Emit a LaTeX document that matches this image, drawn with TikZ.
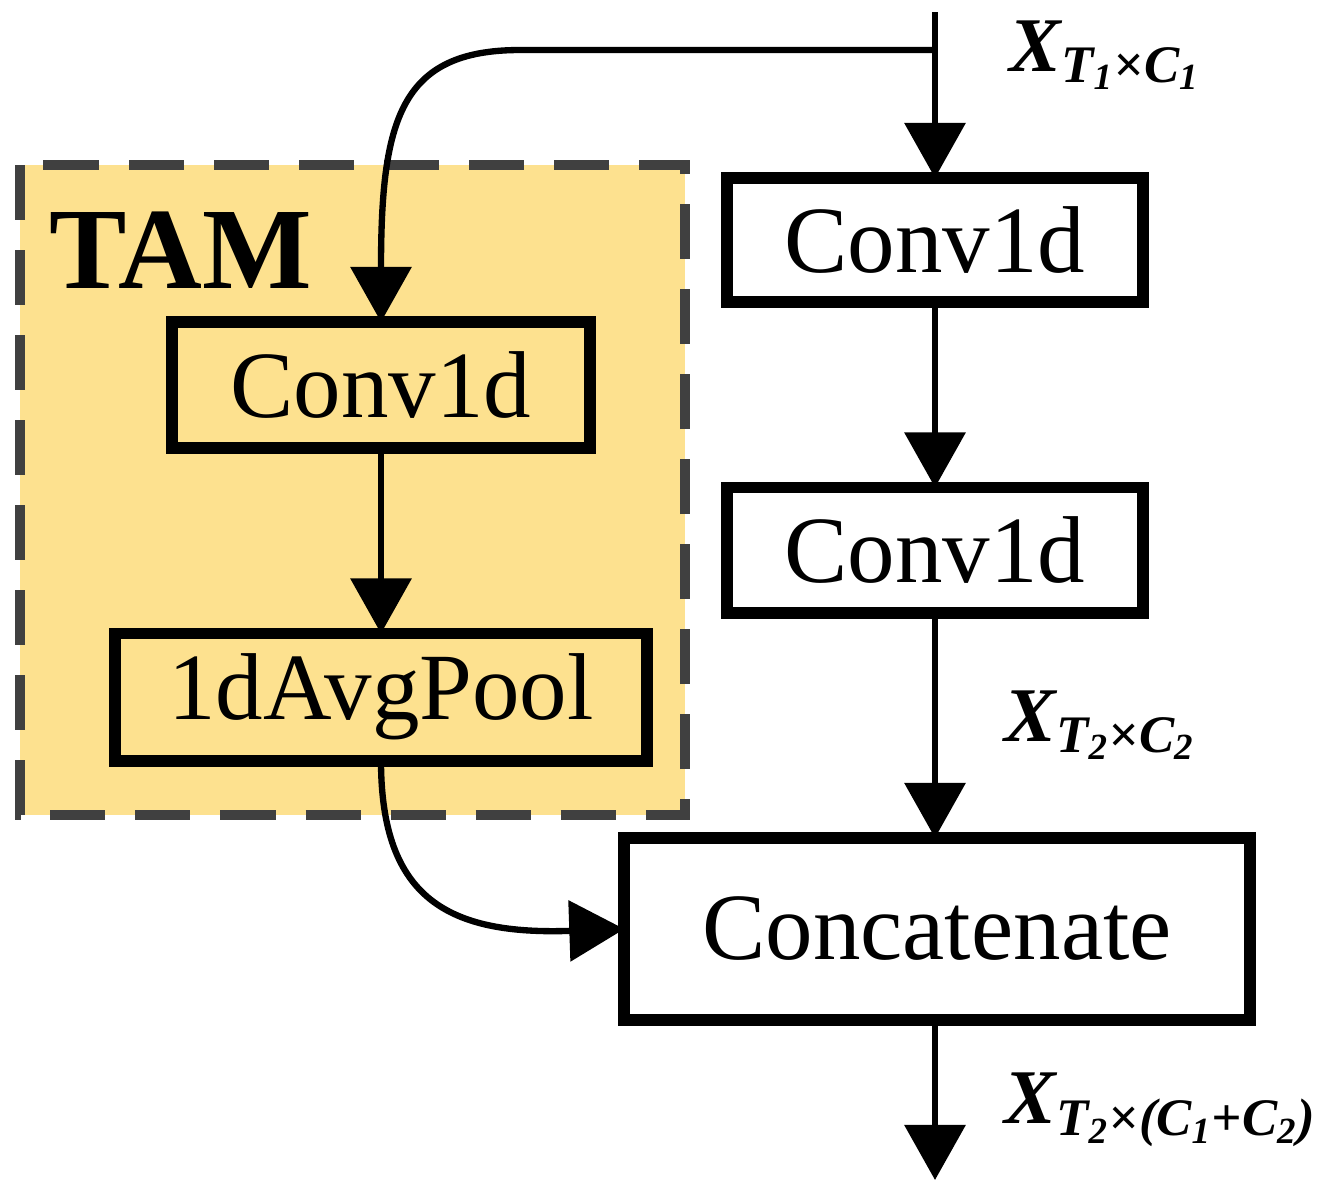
\documentclass[tikz,border=0pt]{standalone}
\usepackage{fontspec}
\setmainfont{Liberation Serif}
\usetikzlibrary{arrows.meta}
\definecolor{tamfill}{RGB}{253, 225, 143}
\definecolor{tamedge}{RGB}{64, 64, 64}

\begin{document}
\begin{tikzpicture}[x=0.01cm,y=-0.01cm,line width=1.8pt,>={Triangle[length=0.55cm,width=0.6cm]}]
    \tikzstyle{blk}=[draw, line width=3.4pt, inner sep=0, outer sep=0, font=\fontsize{27}{30}\selectfont]
    \tikzstyle{lbl}=[font=\fontsize{22}{24}\selectfont\bfseries\itshape, anchor=west]
    \useasboundingbox (0,0) rectangle (1339,1196);
    % TAM region
    \draw [fill=tamfill, draw=tamedge, line width=2.6pt, dash pattern=on 0.55cm off 0.3cm] (20,165) rectangle (685,815);
    \node[font=\fontsize{33}{36}\selectfont\bfseries, anchor=west] (tam) at (35,250) {TAM};
    % blocks
    \node[blk, fill=tamfill, minimum width=4.18cm, minimum height=1.26cm] (conva) at (381,385) {Conv1d};
    \node[blk, fill=tamfill, minimum width=5.32cm, minimum height=1.27cm] (pool) at (381,697) {1dAvgPool};
    \node[blk, fill=white, minimum width=4.16cm, minimum height=1.24cm] (convb) at (935,240) {Conv1d};
    \node[blk, fill=white, minimum width=4.16cm, minimum height=1.25cm] (convc) at (935,550) {Conv1d};
    \node[blk, fill=white, minimum width=6.25cm, minimum height=1.82cm] (cat) at (937,929) {Concatenate};
    \coordinate (in) at (935,12);
    \coordinate (split) at (935,50);
    \coordinate (out) at (935,1180);
    % connectors
    \draw (in) -- (split);
    \draw [->] (split) -- (convb);
    \draw [->] (split) -- (520,50) .. controls (400,50) and (381,120) .. (conva.north);
    \draw [->] (convb) -- (convc);
    \draw [->] (convc) -- (cat.north -| convc);
    \draw [->] (conva) -- (pool);
    \draw [->] (pool.south) .. controls (381,900) and (450,935) .. (cat.west);
    \draw [->] (cat.south -| out) -- (out);
    % labels
    \node[lbl] (xa) at (995,55) {X\textsubscript{\fontsize{15}{16}\selectfont T\textsubscript{1}×C\textsubscript{1}}};
    \node[lbl] (xb) at (990,725) {X\textsubscript{\fontsize{15}{16}\selectfont T\textsubscript{2}×C\textsubscript{2}}};
    \node[lbl] (xc) at (990,1110) {X\textsubscript{\fontsize{15}{16}\selectfont T\textsubscript{2}×(C\textsubscript{1}+C\textsubscript{2})}};
\end{tikzpicture}
\end{document}
